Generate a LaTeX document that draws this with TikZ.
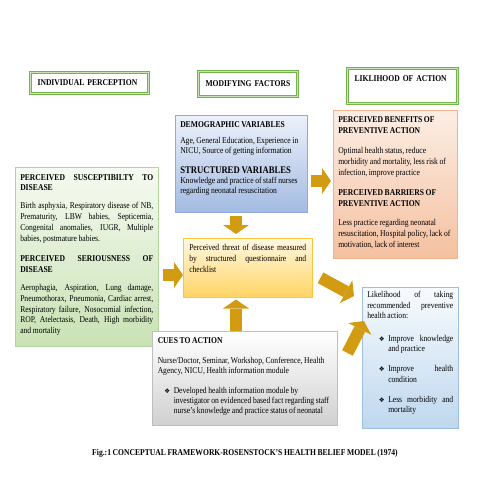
\documentclass[tikz,border=0pt]{standalone}
\usepackage{fontspec}
\setmainfont{Liberation Serif}[FakeStretch=0.855, WordSpace=0.855]
\newfontfamily\dingfont{DejaVu Sans}
\usepackage{tikz}
\usetikzlibrary{arrows.meta,shadows}

\definecolor{hdgreen}{RGB}{118,178,78}
\definecolor{hlgreen}{RGB}{200,228,182}
\definecolor{grntop}{RGB}{246,250,241}
\definecolor{grnbot}{RGB}{200,226,180}
\definecolor{grnline}{RGB}{178,210,160}
\definecolor{demtop}{RGB}{236,241,250}
\definecolor{dembot}{RGB}{163,187,226}
\definecolor{demline}{RGB}{143,170,214}
\definecolor{orgtop}{RGB}{252,238,228}
\definecolor{orgbot}{RGB}{245,192,160}
\definecolor{orgline}{RGB}{240,180,140}
\definecolor{ylwtop}{RGB}{255,248,226}
\definecolor{ylwbot}{RGB}{255,212,100}
\definecolor{ylwline}{RGB}{250,196,60}
\definecolor{graybot}{RGB}{208,208,208}
\definecolor{grayline}{RGB}{190,190,190}
\definecolor{lbtop}{RGB}{248,251,254}
\definecolor{lbbot}{RGB}{190,215,238}
\definecolor{lbline}{RGB}{155,190,225}
\definecolor{gold}{RGB}{210,155,18}

\hyphenpenalty=10000
\exhyphenpenalty=10000
\tolerance=10000

\newcommand{\boxtext}[3]{\parbox[t][#2][t]{#1}{#3}}
\newcommand{\dia}{{\dingfont\fontsize{6.5}{6.5}\selectfont ❖}}
\newcommand{\bitem}[2]{{\leftskip=#1\noindent\llap{\dia\hspace{3.5pt}}#2\par}}

\begin{document}
\begin{tikzpicture}[x=1pt, y=-1pt,
  every node/.style={anchor=north west, font=\fontsize{8.9}{10.5}\selectfont},
  headbox/.style={draw=hdgreen, line width=1.1pt, double=hlgreen, double distance=.8pt,
    fill=white, inner xsep=7pt, inner ysep=0pt, align=left, font=\fontsize{8.9}{9}\selectfont\bfseries},
  boxframe/.style={line width=.5pt, inner xsep=5pt, inner ysep=6pt,
    drop shadow={opacity=.25, shadow xshift=1.2pt, shadow yshift=-1.2pt}},
  greenbox/.style={boxframe, draw=grnline, top color=grntop, bottom color=grnbot, inner ysep=7pt},
  bluebox/.style={boxframe, draw=demline, top color=demtop, bottom color=dembot},
  orangebox/.style={boxframe, draw=orgline, top color=orgtop, bottom color=orgbot},
  yellowbox/.style={boxframe, draw=ylwline, top color=ylwtop, bottom color=ylwbot, inner xsep=6pt},
  graybox/.style={boxframe, draw=grayline, top color=white, bottom color=graybot, inner xsep=5.5pt},
  lightbox/.style={boxframe, draw=lbline, top color=lbtop, bottom color=lbbot, inner ysep=4pt},
  goldarrow/.style={draw=gold, line width=12pt,
    -{Triangle[width=26pt, length=9pt, line width=0pt]}}]
  \useasboundingbox (0, 0) rectangle (495, 495);

  \node (indiv) [headbox, text width=104pt, minimum height=21pt] at (30, 72) {INDIVIDUAL PERCEPTION};
  \node (modif) [headbox, text width=85pt, minimum height=25pt] at (198, 71) {\mbox{MODIFYING FACTORS}};
  \node (action) [headbox, text width=96pt, text height=13pt, text depth=22pt] at (347, 68) {LIKLIHOOD OF ACTION};

  \node (suscept) [greenbox] at (15, 167) {\boxtext{133pt}{165pt}{\fontsize{8.9}{10.8}\selectfont
    \textbf{PERCEIVED SUSCEPTIBILTY TO DISEASE}\par\vspace{7pt}
    Birth asphyxia, Respiratory disease of NB, Prematurity, LBW babies, Septicemia,
    Congenital anomalies, IUGR, Multiple babies, postmature babies.\par\vspace{10pt}
    \textbf{PERCEIVED SERIOUSNESS OF DISEASE}\par\vspace{7pt}
    Aerophagia, Aspiration, Lung damage, Pneumothorax, Pneumonia, Cardiac arrest,
    Respiratory failure, Nosocomial infection, ROP, Atelectasis, Death, High morbidity
    and mortality}};

  \node (demog) [bluebox] at (175, 115) {\boxtext{122pt}{85pt}{\raggedright\fontsize{8.9}{10}\selectfont
    \textbf{DEMOGRAPHIC VARIABLES}\par\vspace{6pt}
    Age, General Education, Experience in NICU, Source of getting information\par\vspace{10pt}
    {\fontsize{10.1}{10}\selectfont\textbf{STRUCTURED VARIABLES}}\par
    Knowledge and practice of staff nurses regarding neonatal resuscitation}};

  \node (benefit) [orangebox] at (333, 110) {\boxtext{114pt}{136pt}{\raggedright\fontsize{8.9}{11}\selectfont
    \textbf{PERCEIVED BENEFITS OF PREVENTIVE ACTION}\par\vspace{9pt}
    Optimal health status, reduce morbidity and mortality, less risk of infection,
    improve practice\par\vspace{9pt}
    \textbf{PERCEIVED BARRIERS OF PREVENTIVE ACTION}\par\vspace{8pt}
    Less practice regarding neonatal resuscitation, Hospital policy, lack of motivation,
    lack of interest}};

  \node (threat) [yellowbox] at (183, 238) {\boxtext{117pt}{47pt}{\fontsize{8.9}{11}\selectfont
    Perceived threat of disease measured by structured questionnaire and checklist}};

  \node (cues) [graybox] at (152, 331) {\boxtext{174pt}{82pt}{\raggedright\fontsize{8.9}{10}\selectfont
    \textbf{CUES TO ACTION}\par\vspace{10pt}
    Nurse/Doctor, Seminar, Workshop, Conference, Health Agency, NICU, Health information
    module\par\vspace{10pt}
    \bitem{16pt}{Developed health information module by investigator on evidenced based
    fact regarding staff nurse's knowledge and practice status of neonatal}}};

  \node (likely) [lightbox] at (362, 287) {\boxtext{86pt}{133pt}{\fontsize{8.9}{10.5}\selectfont
    Likelihood of taking recommended preventive health action:\par\vspace{12pt}
    \bitem{21pt}{Improve knowledge and practice}\vspace{9.5pt}
    \bitem{21pt}{Improve health condition}\vspace{9.5pt}
    \bitem{21pt}{Less morbidity and mortality}}};

  \node (caption) [anchor=center, font=\fontsize{8.9}{9}\selectfont\bfseries] at (245, 453)
    {Fig.:1 CONCEPTUAL FRAMEWORK-ROSENSTOCK'S HEALTH BELIEF MODEL (1974)};

  \draw[goldarrow, shorten <=4pt] (suscept.east |- 0,275) -- (threat.west |- 0,275);
  \draw[goldarrow, shorten <=3pt, shorten >=4pt] (demog.south -| 236,0) -- (threat.north -| 236,0);
  \draw[goldarrow, shorten >=2pt] (cues.north -| 236,0) -- (threat.south -| 236,0);
  \draw[goldarrow, shorten <=3pt, shorten >=2pt] (demog.east |- 0,181) -- (benefit.west |- 0,181);
  \draw[goldarrow] ([shift={(8,10)}]threat.east) -- ([shift={(-8,9)}]likely.north west);
  \draw[goldarrow] ([shift={(10,22)}]cues.north east) -- ([shift={(2,34)}]likely.north west);
\end{tikzpicture}
\end{document}
